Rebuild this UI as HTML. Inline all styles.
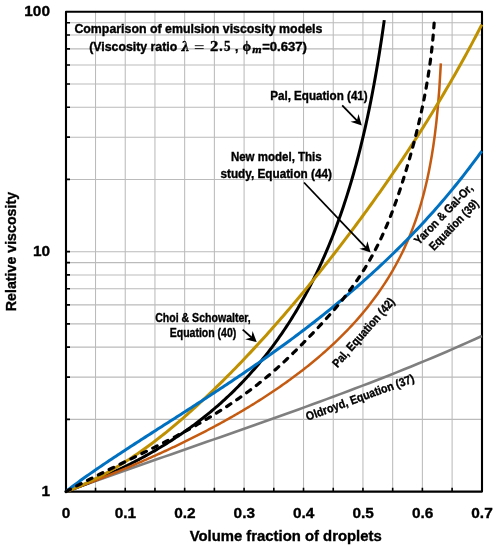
<!DOCTYPE html>
<html><head><meta charset="utf-8"><style>
html,body{margin:0;padding:0;background:#fff;width:496px;height:550px;overflow:hidden}
svg{display:block}
text{font-family:"Liberation Sans",Arial,sans-serif;font-weight:bold;fill:#000;stroke:#000;stroke-width:0.35px}
.s{font-family:"Liberation Serif","DejaVu Serif",serif}
</style></head><body>
<svg width="496" height="550" viewBox="0 0 496 550">
<rect width="496" height="550" fill="#fff"/>
<path d="M95.52,11.7V491.6M125.23,11.7V491.6M154.94,11.7V491.6M184.66,11.7V491.6M214.38,11.7V491.6M244.09,11.7V491.6M273.81,11.7V491.6M303.52,11.7V491.6M333.24,11.7V491.6M362.95,11.7V491.6M392.67,11.7V491.6M422.38,11.7V491.6M452.10,11.7V491.6M66,419.37H482M66,377.11H482M66,347.14H482M66,323.88H482M66,304.88H482M66,288.82H482M66,274.90H482M66,262.63H482M66,179.42H482M66,137.16H482M66,107.19H482M66,83.93H482M66,64.93H482M66,48.87H482M66,34.95H482M66,22.68H482M66,251.65H482" stroke="#BBBBBB" stroke-width="1.05" fill="none"/>
<path d="M95.52,491.6V487.8M125.23,491.6V487.8M154.94,491.6V487.8M184.66,491.6V487.8M214.38,491.6V487.8M244.09,491.6V487.8M273.81,491.6V487.8M303.52,491.6V487.8M333.24,491.6V487.8M362.95,491.6V487.8M392.67,491.6V487.8M422.38,491.6V487.8M452.10,491.6V487.8M66,419.37H70M66,377.11H70M66,347.14H70M66,323.88H70M66,304.88H70M66,288.82H70M66,274.90H70M66,262.63H70M66,179.42H70M66,137.16H70M66,107.19H70M66,83.93H70M66,64.93H70M66,48.87H70M66,34.95H70M66,22.68H70M66,251.65H70" stroke="#000" stroke-width="1.6" fill="none"/>
<rect x="66" y="11.7" width="416" height="479.9" fill="none" stroke="#000" stroke-width="2.1" stroke-linejoin="round"/>
<g fill="none" stroke-linejoin="round">
<path d="M65.80,491.60 L72.85,489.05 L79.90,486.50 L86.95,483.97 L94.00,481.45 L101.06,478.93 L108.11,476.43 L115.16,473.93 L122.21,471.44 L129.26,468.96 L136.31,466.48 L143.36,464.01 L150.41,461.54 L157.46,459.08 L164.51,456.61 L171.57,454.15 L178.62,451.69 L185.67,449.23 L192.72,446.78 L199.77,444.32 L206.82,441.85 L213.87,439.39 L220.92,436.93 L227.97,434.46 L235.02,431.98 L242.08,429.51 L249.13,427.02 L256.18,424.53 L263.23,422.03 L270.28,419.53 L277.33,417.01 L284.38,414.49 L291.43,411.96 L298.48,409.41 L305.53,406.86 L312.59,404.29 L319.64,401.71 L326.69,399.11 L333.74,396.50 L340.79,393.87 L347.84,391.22 L354.89,388.56 L361.94,385.88 L368.99,383.17 L376.04,380.45 L383.10,377.70 L390.15,374.92 L397.20,372.13 L404.25,369.30 L411.30,366.45 L418.35,363.56 L425.40,360.65 L432.45,357.70 L439.50,354.72 L446.55,351.70 L453.61,348.64 L460.66,345.54 L467.71,342.39 L474.76,339.21 L481.81,335.97" stroke="#7F7F7F" stroke-width="2.6"/>
<path d="M65.80,491.60 L67.08,491.13 L68.36,490.67 L69.64,490.19 L70.92,489.72 L72.19,489.24 L73.47,488.76 L74.75,488.28 L76.03,487.79 L77.31,487.30 L78.59,486.81 L79.87,486.31 L81.15,485.81 L82.43,485.31 L83.71,484.81 L84.98,484.30 L86.26,483.79 L87.54,483.27 L88.82,482.75 L90.10,482.23 L91.38,481.71 L92.66,481.18 L93.94,480.65 L95.22,480.11 L96.50,479.57 L97.77,479.03 L99.05,478.48 L100.33,477.93 L101.61,477.38 L102.89,476.82 L104.17,476.26 L105.45,475.70 L106.73,475.13 L108.01,474.56 L109.29,473.98 L110.56,473.41 L111.84,472.82 L113.12,472.23 L114.40,471.64 L115.68,471.05 L116.96,470.45 L118.24,469.84 L119.52,469.24 L120.80,468.62 L122.08,468.01 L123.35,467.39 L124.63,466.76 L125.91,466.13 L127.19,465.50 L128.47,464.86 L129.75,464.22 L131.03,463.57 L132.31,462.92 L133.59,462.26 L134.87,461.60 L136.14,460.93 L137.42,460.26 L138.70,459.59 L139.98,458.91 L141.26,458.22 L142.54,457.53 L143.82,456.83 L145.10,456.13 L146.38,455.43 L147.65,454.72 L148.93,454.00 L150.21,453.28 L151.49,452.55 L152.77,451.82 L154.05,451.08 L155.33,450.34 L156.61,449.59 L157.89,448.83 L159.17,448.07 L160.44,447.30 L161.72,446.53 L163.00,445.75 L164.28,444.97 L165.56,444.18 L166.84,443.38 L168.12,442.58 L169.40,441.77 L170.68,440.95 L171.96,440.13 L173.23,439.30 L174.51,438.46 L175.79,437.62 L177.07,436.77 L178.35,435.92 L179.63,435.06 L180.91,434.19 L182.19,433.31 L183.47,432.43 L184.75,431.53 L186.02,430.64 L187.30,429.73 L188.58,428.82 L189.86,427.90 L191.14,426.97 L192.42,426.03 L193.70,425.09 L194.98,424.14 L196.26,423.18 L197.54,422.21 L198.81,421.23 L200.09,420.25 L201.37,419.25 L202.65,418.25 L203.93,417.24 L205.21,416.22 L206.49,415.19 L207.77,414.15 L209.05,413.11 L210.33,412.05 L211.60,410.99 L212.88,409.91 L214.16,408.83 L215.44,407.73 L216.72,406.63 L218.00,405.52 L219.28,404.39 L220.56,403.26 L221.84,402.11 L223.11,400.96 L224.39,399.79 L225.67,398.62 L226.95,397.43 L228.23,396.23 L229.51,395.02 L230.79,393.80 L232.07,392.57 L233.35,391.32 L234.63,390.06 L235.90,388.80 L237.18,387.51 L238.46,386.22 L239.74,384.92 L241.02,383.60 L242.30,382.26 L243.58,380.92 L244.86,379.56 L246.14,378.19 L247.42,376.80 L248.69,375.40 L249.97,373.99 L251.25,372.56 L252.53,371.12 L253.81,369.66 L255.09,368.19 L256.37,366.70 L257.65,365.20 L258.93,363.68 L260.21,362.14 L261.48,360.59 L262.76,359.02 L264.04,357.44 L265.32,355.84 L266.60,354.22 L267.88,352.58 L269.16,350.92 L270.44,349.25 L271.72,347.56 L273.00,345.85 L274.27,344.11 L275.55,342.36 L276.83,340.59 L278.11,338.80 L279.39,336.99 L280.67,335.16 L281.95,333.31 L283.23,331.43 L284.51,329.53 L285.79,327.61 L287.06,325.67 L288.34,323.70 L289.62,321.71 L290.90,319.69 L292.18,317.65 L293.46,315.58 L294.74,313.49 L296.02,311.37 L297.30,309.22 L298.57,307.05 L299.85,304.84 L301.13,302.61 L302.41,300.35 L303.69,298.06 L304.97,295.73 L306.25,293.38 L307.53,290.99 L308.81,288.57 L310.09,286.11 L311.36,283.62 L312.64,281.10 L313.92,278.54 L315.20,275.93 L316.48,273.30 L317.76,270.62 L319.04,267.90 L320.32,265.14 L321.60,262.33 L322.88,259.48 L324.15,256.59 L325.43,253.65 L326.71,250.66 L327.99,247.62 L329.27,244.53 L330.55,241.39 L331.83,238.20 L333.11,234.95 L334.39,231.64 L335.67,228.27 L336.94,224.84 L338.22,221.34 L339.50,217.78 L340.78,214.16 L342.06,210.46 L343.34,206.69 L344.62,202.84 L345.90,198.91 L347.18,194.91 L348.46,190.81 L349.73,186.63 L351.01,182.36 L352.29,178.00 L353.57,173.53 L354.85,168.96 L356.13,164.29 L357.41,159.50 L358.69,154.59 L359.97,149.56 L361.24,144.40 L362.52,139.11 L363.80,133.68 L365.08,128.10 L366.36,122.36 L367.64,116.46 L368.92,110.39 L370.20,104.14 L371.48,97.70 L372.76,91.06 L374.03,84.21 L375.31,77.13 L376.59,69.82 L377.87,62.26 L379.15,54.43 L380.43,46.32 L381.71,37.90 L382.99,29.17 L384.27,20.10" stroke="#000" stroke-width="3"/>
<path d="M65.80,491.60 L67.31,491.05 L68.81,490.50 L70.32,489.95 L71.82,489.40 L73.33,488.84 L74.84,488.29 L76.34,487.73 L77.85,487.17 L79.36,486.60 L80.86,486.04 L82.37,485.47 L83.87,484.91 L85.38,484.34 L86.89,483.76 L88.39,483.19 L89.90,482.61 L91.41,482.04 L92.91,481.46 L94.42,480.88 L95.92,480.29 L97.43,479.71 L98.94,479.12 L100.44,478.53 L101.95,477.94 L103.46,477.34 L104.96,476.75 L106.47,476.15 L107.97,475.55 L109.48,474.95 L110.99,474.34 L112.49,473.74 L114.00,473.13 L115.50,472.52 L117.01,471.90 L118.52,471.29 L120.02,470.67 L121.53,470.05 L123.04,469.43 L124.54,468.80 L126.05,468.18 L127.55,467.55 L129.06,466.92 L130.57,466.28 L132.07,465.64 L133.58,465.01 L135.09,464.36 L136.59,463.72 L138.10,463.08 L139.60,462.43 L141.11,461.78 L142.62,461.12 L144.12,460.47 L145.63,459.81 L147.14,459.15 L148.64,458.48 L150.15,457.81 L151.65,457.15 L153.16,456.47 L154.67,455.80 L156.17,455.12 L157.68,454.44 L159.18,453.76 L160.69,453.07 L162.20,452.38 L163.70,451.69 L165.21,451.00 L166.72,450.30 L168.22,449.60 L169.73,448.90 L171.23,448.19 L172.74,447.48 L174.25,446.77 L175.75,446.05 L177.26,445.33 L178.77,444.61 L180.27,443.89 L181.78,443.16 L183.28,442.43 L184.79,441.69 L186.30,440.96 L187.80,440.21 L189.31,439.47 L190.81,438.72 L192.32,437.97 L193.83,437.22 L195.33,436.46 L196.84,435.69 L198.35,434.93 L199.85,434.16 L201.36,433.39 L202.86,432.61 L204.37,431.83 L205.88,431.05 L207.38,430.26 L208.89,429.47 L210.40,428.67 L211.90,427.87 L213.41,427.07 L214.91,426.26 L216.42,425.45 L217.93,424.63 L219.43,423.81 L220.94,422.99 L222.45,422.16 L223.95,421.33 L225.46,420.49 L226.96,419.65 L228.47,418.81 L229.98,417.96 L231.48,417.10 L232.99,416.24 L234.49,415.38 L236.00,414.51 L237.51,413.63 L239.01,412.75 L240.52,411.87 L242.03,410.98 L243.53,410.09 L245.04,409.19 L246.54,408.29 L248.05,407.38 L249.56,406.46 L251.06,405.54 L252.57,404.62 L254.08,403.69 L255.58,402.75 L257.09,401.81 L258.59,400.86 L260.10,399.90 L261.61,398.95 L263.11,397.98 L264.62,397.01 L266.13,396.03 L267.63,395.04 L269.14,394.05 L270.64,393.06 L272.15,392.05 L273.66,391.04 L275.16,390.02 L276.67,389.00 L278.17,387.97 L279.68,386.93 L281.19,385.88 L282.69,384.83 L284.20,383.77 L285.71,382.70 L287.21,381.62 L288.72,380.54 L290.22,379.45 L291.73,378.35 L293.24,377.24 L294.74,376.12 L296.25,374.99 L297.76,373.86 L299.26,372.72 L300.77,371.56 L302.27,370.40 L303.78,369.23 L305.29,368.05 L306.79,366.86 L308.30,365.66 L309.81,364.45 L311.31,363.22 L312.82,361.99 L314.32,360.75 L315.83,359.50 L317.34,358.23 L318.84,356.95 L320.35,355.66 L321.85,354.36 L323.36,353.05 L324.87,351.72 L326.37,350.38 L327.88,349.03 L329.39,347.67 L330.89,346.29 L332.40,344.89 L333.90,343.48 L335.41,342.06 L336.92,340.62 L338.42,339.17 L339.93,337.70 L341.44,336.21 L342.94,334.70 L344.45,333.18 L345.95,331.64 L347.46,330.08 L348.97,328.50 L350.47,326.91 L351.98,325.29 L353.49,323.65 L354.99,321.99 L356.50,320.31 L358.00,318.60 L359.51,316.87 L361.02,315.12 L362.52,313.34 L364.03,311.54 L365.53,309.70 L367.04,307.84 L368.55,305.95 L370.05,304.03 L371.56,302.08 L373.07,300.10 L374.57,298.08 L376.08,296.02 L377.58,293.93 L379.09,291.81 L380.60,289.64 L382.10,287.42 L383.61,285.17 L385.12,282.87 L386.62,280.52 L388.13,278.11 L389.63,275.66 L391.14,273.15 L392.65,270.58 L394.15,267.94 L395.66,265.24 L397.16,262.47 L398.67,259.63 L400.18,256.70 L401.68,253.69 L403.19,250.58 L404.70,247.38 L406.20,244.08 L407.71,240.66 L409.21,237.12 L410.72,233.44 L412.23,229.62 L413.73,225.65 L415.24,221.50 L416.75,217.15 L418.25,212.60 L419.76,207.80 L421.26,202.74 L422.77,197.38 L424.28,191.67 L425.78,185.57 L427.29,179.00 L428.80,171.88 L430.30,164.11 L431.81,155.54 L433.31,145.95 L434.82,135.08 L436.33,122.46 L437.83,107.39 L439.34,88.59 L440.84,63.40" stroke="#C55A11" stroke-width="2.5"/>
<path d="M65.80,491.60 L67.89,490.83 L69.98,490.04 L72.07,489.23 L74.16,488.39 L76.25,487.54 L78.34,486.67 L80.43,485.78 L82.52,484.86 L84.61,483.93 L86.71,482.98 L88.80,482.01 L90.89,481.01 L92.98,480.00 L95.07,478.97 L97.16,477.91 L99.25,476.84 L101.34,475.75 L103.43,474.64 L105.52,473.50 L107.61,472.35 L109.70,471.18 L111.79,469.99 L113.88,468.78 L115.97,467.55 L118.06,466.30 L120.15,465.03 L122.24,463.74 L124.33,462.43 L126.42,461.10 L128.52,459.76 L130.61,458.39 L132.70,457.00 L134.79,455.60 L136.88,454.18 L138.97,452.73 L141.06,451.27 L143.15,449.79 L145.24,448.29 L147.33,446.78 L149.42,445.24 L151.51,443.69 L153.60,442.12 L155.69,440.53 L157.78,438.92 L159.87,437.30 L161.96,435.65 L164.05,433.99 L166.14,432.31 L168.23,430.62 L170.33,428.91 L172.42,427.18 L174.51,425.43 L176.60,423.67 L178.69,421.89 L180.78,420.09 L182.87,418.28 L184.96,416.45 L187.05,414.60 L189.14,412.74 L191.23,410.87 L193.32,408.97 L195.41,407.07 L197.50,405.14 L199.59,403.20 L201.68,401.25 L203.77,399.28 L205.86,397.29 L207.95,395.30 L210.04,393.28 L212.14,391.25 L214.23,389.21 L216.32,387.19 L218.41,385.16 L220.50,383.12 L222.59,381.06 L224.68,378.99 L226.77,376.90 L228.86,374.81 L230.95,372.70 L233.04,370.57 L235.13,368.43 L237.22,366.28 L239.31,364.12 L241.40,361.94 L243.49,359.75 L245.58,357.55 L247.67,355.34 L249.76,353.11 L251.85,350.88 L253.95,348.63 L256.04,346.36 L258.13,344.09 L260.22,341.81 L262.31,339.51 L264.40,337.20 L266.49,334.88 L268.58,332.55 L270.67,330.20 L272.76,327.85 L274.85,325.48 L276.94,323.10 L279.03,320.71 L281.12,318.31 L283.21,315.90 L285.30,313.48 L287.39,311.05 L289.48,308.60 L291.57,306.15 L293.66,303.68 L295.76,301.20 L297.85,298.72 L299.94,296.22 L302.03,293.71 L304.12,291.19 L306.21,288.65 L308.30,286.11 L310.39,283.56 L312.48,280.99 L314.57,278.41 L316.66,275.83 L318.75,273.23 L320.84,270.62 L322.93,268.00 L325.02,265.37 L327.11,262.73 L329.20,260.07 L331.29,257.41 L333.38,254.73 L335.47,252.04 L337.57,249.34 L339.66,246.63 L341.75,243.91 L343.84,241.17 L345.93,238.43 L348.02,235.67 L350.11,232.90 L352.20,230.12 L354.29,227.32 L356.38,224.51 L358.47,221.69 L360.56,218.86 L362.65,216.01 L364.74,213.16 L366.83,210.29 L368.92,207.40 L371.01,204.50 L373.10,201.59 L375.19,198.67 L377.28,195.73 L379.38,192.77 L381.47,189.81 L383.56,186.82 L385.65,183.83 L387.74,180.82 L389.83,177.79 L391.92,174.75 L394.01,171.69 L396.10,168.62 L398.19,165.53 L400.28,162.42 L402.37,159.30 L404.46,156.16 L406.55,153.01 L408.64,149.83 L410.73,146.64 L412.82,143.43 L414.91,140.21 L417.00,136.96 L419.09,133.69 L421.19,130.41 L423.28,127.10 L425.37,123.78 L427.46,120.43 L429.55,117.07 L431.64,113.68 L433.73,110.27 L435.82,106.84 L437.91,103.39 L440.00,99.91 L442.09,96.41 L444.18,92.88 L446.27,89.33 L448.36,85.76 L450.45,82.16 L452.54,78.53 L454.63,74.88 L456.72,71.19 L458.81,67.48 L460.90,63.75 L463.00,59.98 L465.09,56.18 L467.18,52.35 L469.27,48.49 L471.36,44.60 L473.45,40.67 L475.54,36.71 L477.63,32.71 L479.72,28.68 L481.81,24.62" stroke="#BF9000" stroke-width="3"/>
<path d="M65.80,491.60 L67.89,489.96 L69.98,488.34 L72.07,486.75 L74.16,485.18 L76.25,483.63 L78.34,482.09 L80.43,480.57 L82.52,479.06 L84.61,477.57 L86.71,476.08 L88.80,474.61 L90.89,473.14 L92.98,471.68 L95.07,470.24 L97.16,468.80 L99.25,467.37 L101.34,465.94 L103.43,464.53 L105.52,463.12 L107.61,461.71 L109.70,460.31 L111.79,458.92 L113.88,457.53 L115.97,456.15 L118.06,454.77 L120.15,453.39 L122.24,452.02 L124.33,450.65 L126.42,449.29 L128.52,447.93 L130.61,446.57 L132.70,445.22 L134.79,443.87 L136.88,442.52 L138.97,441.17 L141.06,439.82 L143.15,438.48 L145.24,437.13 L147.33,435.79 L149.42,434.45 L151.51,433.12 L153.60,431.78 L155.69,430.44 L157.78,429.10 L159.87,427.77 L161.96,426.43 L164.05,425.10 L166.14,423.76 L168.23,422.42 L170.33,421.09 L172.42,419.75 L174.51,418.41 L176.60,417.08 L178.69,415.74 L180.78,414.40 L182.87,413.06 L184.96,411.72 L187.05,410.37 L189.14,409.03 L191.23,407.68 L193.32,406.33 L195.41,404.99 L197.50,403.63 L199.59,402.28 L201.68,400.93 L203.77,399.57 L205.86,398.21 L207.95,396.85 L210.04,395.48 L212.14,394.11 L214.23,392.74 L216.32,391.37 L218.41,389.99 L220.50,388.61 L222.59,387.23 L224.68,385.85 L226.77,384.46 L228.86,383.06 L230.95,381.67 L233.04,380.27 L235.13,378.86 L237.22,377.46 L239.31,376.04 L241.40,374.63 L243.49,373.21 L245.58,371.78 L247.67,370.36 L249.76,368.92 L251.85,367.48 L253.95,366.04 L256.04,364.59 L258.13,363.14 L260.22,361.69 L262.31,360.22 L264.40,358.76 L266.49,357.28 L268.58,355.80 L270.67,354.32 L272.76,352.83 L274.85,351.33 L276.94,349.83 L279.03,348.33 L281.12,346.81 L283.21,345.29 L285.30,343.77 L287.39,342.24 L289.48,340.70 L291.57,339.15 L293.66,337.60 L295.76,336.04 L297.85,334.48 L299.94,332.90 L302.03,331.32 L304.12,329.74 L306.21,328.14 L308.30,326.54 L310.39,324.93 L312.48,323.31 L314.57,321.69 L316.66,320.05 L318.75,318.41 L320.84,316.76 L322.93,315.10 L325.02,313.44 L327.11,311.76 L329.20,310.08 L331.29,308.39 L333.38,306.68 L335.47,304.97 L337.57,303.25 L339.66,301.52 L341.75,299.78 L343.84,298.03 L345.93,296.27 L348.02,294.50 L350.11,292.73 L352.20,290.94 L354.29,289.14 L356.38,287.32 L358.47,285.50 L360.56,283.67 L362.65,281.83 L364.74,279.97 L366.83,278.11 L368.92,276.23 L371.01,274.34 L373.10,272.44 L375.19,270.52 L377.28,268.60 L379.38,266.66 L381.47,264.70 L383.56,262.74 L385.65,260.76 L387.74,258.77 L389.83,256.77 L391.92,254.75 L394.01,252.72 L396.10,250.67 L398.19,248.61 L400.28,246.53 L402.37,244.44 L404.46,242.34 L406.55,240.22 L408.64,238.08 L410.73,235.93 L412.82,233.76 L414.91,231.58 L417.00,229.37 L419.09,227.16 L421.19,224.92 L423.28,222.67 L425.37,220.40 L427.46,218.11 L429.55,215.80 L431.64,213.47 L433.73,211.13 L435.82,208.76 L437.91,206.38 L440.00,203.97 L442.09,201.55 L444.18,199.10 L446.27,196.64 L448.36,194.15 L450.45,191.64 L452.54,189.10 L454.63,186.55 L456.72,183.97 L458.81,181.36 L460.90,178.74 L463.00,176.08 L465.09,173.41 L467.18,170.70 L469.27,167.97 L471.36,165.21 L473.45,162.43 L475.54,159.62 L477.63,156.78 L479.72,153.91 L481.81,151.01" stroke="#0070C0" stroke-width="3"/>
<path d="M66.00,491.60 L68.92,490.03 L71.87,488.45 L74.86,486.88 L77.87,485.31 L80.90,483.74 L83.96,482.16 L87.05,480.59 L90.15,479.02 L93.27,477.45 L96.41,475.87 L99.57,474.30 L102.74,472.73 L105.92,471.16 L109.11,469.58 L112.31,468.01 L115.51,466.44 L118.72,464.87 L121.94,463.29 L125.15,461.72 L128.37,460.15 L131.58,458.58 L134.79,457.00 L137.99,455.43 L141.19,453.86 L144.38,452.29 L147.55,450.71 L150.72,449.14 L153.87,447.57 L157.00,446.00 L160.12,444.42 L163.21,442.85 L166.29,441.28 L169.34,439.71 L172.37,438.13 L175.37,436.56 L178.34,434.99 L181.29,433.41 L184.20,431.84 L187.08,430.27 L189.92,428.70 L192.74,427.12 L195.52,425.55 L198.27,423.98 L200.99,422.41 L203.68,420.83 L206.33,419.26 L208.96,417.69 L211.55,416.12 L214.11,414.54 L216.65,412.97 L219.15,411.40 L221.62,409.83 L224.07,408.25 L226.48,406.68 L228.86,405.11 L231.22,403.54 L233.55,401.96 L235.85,400.39 L238.12,398.82 L240.36,397.25 L242.57,395.67 L244.76,394.10 L246.92,392.53 L249.05,390.96 L251.16,389.38 L253.23,387.81 L255.29,386.24 L257.31,384.66 L259.31,383.09 L261.29,381.52 L263.24,379.95 L265.16,378.37 L267.06,376.80 L268.93,375.23 L270.78,373.66 L272.61,372.08 L274.41,370.51 L276.19,368.94 L277.96,367.37 L279.70,365.79 L281.42,364.22 L283.13,362.65 L284.82,361.08 L286.49,359.50 L288.15,357.93 L289.79,356.36 L291.42,354.79 L293.03,353.21 L294.63,351.64 L296.23,350.07 L297.81,348.50 L299.38,346.92 L300.94,345.35 L302.49,343.78 L304.04,342.21 L305.58,340.63 L307.11,339.06 L308.64,337.49 L310.15,335.92 L311.67,334.34 L313.17,332.77 L314.67,331.20 L316.16,329.62 L317.64,328.05 L319.11,326.48 L320.57,324.91 L322.02,323.33 L323.46,321.76 L324.90,320.19 L326.32,318.62 L327.73,317.04 L329.13,315.47 L330.52,313.90 L331.90,312.33 L333.27,310.75 L334.62,309.18 L335.96,307.61 L337.29,306.04 L338.61,304.46 L339.91,302.89 L341.20,301.32 L342.48,299.75 L343.74,298.17 L344.99,296.60 L346.22,295.03 L347.44,293.46 L348.65,291.88 L349.83,290.31 L351.00,288.74 L352.16,287.17 L353.30,285.59 L354.42,284.02 L355.53,282.45 L356.62,280.87 L357.70,279.30 L358.76,277.73 L359.81,276.16 L360.84,274.58 L361.86,273.01 L362.86,271.44 L363.85,269.87 L364.83,268.29 L365.79,266.72 L366.74,265.15 L367.68,263.58 L368.60,262.00 L369.51,260.43 L370.40,258.86 L371.29,257.29 L372.16,255.71 L373.02,254.14 L373.87,252.57 L374.70,251.00 L375.52,249.42 L376.34,247.85 L377.14,246.28 L377.93,244.71 L378.71,243.13 L379.47,241.56 L380.23,239.99 L380.98,238.42 L381.72,236.84 L382.44,235.27 L383.16,233.70 L383.87,232.13 L384.57,230.55 L385.26,228.98 L385.94,227.41 L386.61,225.83 L387.27,224.26 L387.92,222.69 L388.57,221.12 L389.21,219.54 L389.84,217.97 L390.46,216.40 L391.07,214.83 L391.68,213.25 L392.28,211.68 L392.87,210.11 L393.46,208.54 L394.04,206.96 L394.61,205.39 L395.18,203.82 L395.74,202.25 L396.29,200.67 L396.84,199.10 L397.38,197.53 L397.92,195.96 L398.45,194.38 L398.98,192.81 L399.51,191.24 L400.03,189.67 L400.54,188.09 L401.05,186.52 L401.56,184.95 L402.06,183.38 L402.56,181.80 L403.05,180.23 L403.55,178.66 L404.03,177.08 L404.52,175.51 L405.00,173.94 L405.48,172.37 L405.96,170.79 L406.43,169.22 L406.90,167.65 L407.37,166.08 L407.83,164.50 L408.29,162.93 L408.75,161.36 L409.20,159.79 L409.65,158.21 L410.10,156.64 L410.54,155.07 L410.98,153.50 L411.42,151.92 L411.85,150.35 L412.28,148.78 L412.71,147.21 L413.13,145.63 L413.55,144.06 L413.97,142.49 L414.38,140.92 L414.79,139.34 L415.19,137.77 L415.59,136.20 L415.99,134.63 L416.39,133.05 L416.78,131.48 L417.17,129.91 L417.55,128.34 L417.93,126.76 L418.31,125.19 L418.68,123.62 L419.05,122.04 L419.41,120.47 L419.77,118.90 L420.13,117.33 L420.49,115.75 L420.84,114.18 L421.18,112.61 L421.53,111.04 L421.86,109.46 L422.20,107.89 L422.53,106.32 L422.86,104.75 L423.18,103.17 L423.50,101.60 L423.82,100.03 L424.13,98.46 L424.44,96.88 L424.74,95.31 L425.04,93.74 L425.33,92.17 L425.63,90.59 L425.91,89.02 L426.20,87.45 L426.48,85.88 L426.75,84.30 L427.02,82.73 L427.29,81.16 L427.55,79.59 L427.81,78.01 L428.07,76.44 L428.32,74.87 L428.56,73.29 L428.81,71.72 L429.04,70.15 L429.28,68.58 L429.51,67.00 L429.73,65.43 L429.95,63.86 L430.17,62.29 L430.38,60.71 L430.59,59.14 L430.79,57.57 L430.99,56.00 L431.19,54.42 L431.38,52.85 L431.57,51.28 L431.75,49.71 L431.92,48.13 L432.10,46.56 L432.26,44.99 L432.43,43.42 L432.59,41.84 L432.74,40.27 L432.89,38.70 L433.04,37.13 L433.18,35.55 L433.32,33.98 L433.45,32.41 L433.57,30.84 L433.70,29.26 L433.81,27.69 L433.93,26.12 L434.04,24.55 L434.14,22.97" stroke="#000" stroke-width="3.2" stroke-dasharray="5 7.127" stroke-linecap="round"/>
</g>
<!-- tick labels -->
<g font-size="15.4" text-anchor="end">
<text x="50" y="16.0">100</text>
<text x="50" y="255.9">10</text>
<text x="50" y="496.1">1</text>
</g>
<g font-size="15.4" text-anchor="middle">
<text x="66" y="518.3">0</text>
<text x="125.4" y="518.3">0.1</text>
<text x="184.9" y="518.3">0.2</text>
<text x="244.3" y="518.3">0.3</text>
<text x="303.7" y="518.3">0.4</text>
<text x="363.2" y="518.3">0.5</text>
<text x="422.6" y="518.3">0.6</text>
<text x="482" y="518.3">0.7</text>
</g>
<text x="189.7" y="541.2" font-size="14.5" textLength="192" lengthAdjust="spacingAndGlyphs">Volume fraction of droplets</text>
<text transform="translate(16.0,311.2) rotate(-90)" font-size="14.3" textLength="119.3" lengthAdjust="spacingAndGlyphs">Relative viscosity</text>
<!-- title -->
<text x="74.4" y="32.9" font-size="11.9" textLength="248" lengthAdjust="spacingAndGlyphs">Comparison of emulsion viscosity models</text>
<text x="89.2" y="51.3" font-size="11.9" textLength="88" lengthAdjust="spacingAndGlyphs">(Viscosity ratio</text>
<text x="181.4" y="50.9" font-size="13.5" font-style="italic" font-weight="normal" stroke-width="0.3" textLength="8.2" lengthAdjust="spacingAndGlyphs" style="font-family:'DejaVu Serif',serif">λ</text>
<path d="M194.8,45.7H203.7M194.8,48.6H203.7" stroke="#000" stroke-width="0.9"/>
<text class="s" x="209.9" y="50.9" font-size="13.6" stroke-width="0.1" textLength="8.3" lengthAdjust="spacingAndGlyphs">2</text>
<text class="s" x="219.3" y="50.9" font-size="13.6" stroke-width="0.1">.</text>
<text class="s" x="223.9" y="50.9" font-size="13.6" stroke-width="0.1" textLength="6.5" lengthAdjust="spacingAndGlyphs">5</text>
<text x="234.9" y="51.3" font-size="11.9">,</text>
<text class="s" x="242.4" y="51.3" font-size="14" font-weight="normal" stroke-width="0.15" textLength="8.6" lengthAdjust="spacingAndGlyphs">ϕ</text>
<text class="s" x="252.2" y="53.3" font-size="10.5" font-style="italic" textLength="9.4" lengthAdjust="spacingAndGlyphs">m</text>
<text x="262.2" y="51.3" font-size="11.9" textLength="44.8" lengthAdjust="spacingAndGlyphs">=0.637)</text>
<!-- labels -->
<g font-size="11.9">
<text x="270.2" y="99.9" textLength="97.5" lengthAdjust="spacingAndGlyphs">Pal, Equation (41)</text>
<text x="230.9" y="160.6" textLength="90.8" lengthAdjust="spacingAndGlyphs">New model, This</text>
<text x="220.5" y="177.5" textLength="111.4" lengthAdjust="spacingAndGlyphs">study, Equation (44)</text>
<text x="155.2" y="322.3" textLength="95.6" lengthAdjust="spacingAndGlyphs">Choi &amp; Schowalter,</text>
<text x="169.7" y="336.8" textLength="66.6" lengthAdjust="spacingAndGlyphs">Equation (40)</text>
<text transform="translate(337.4,368.3) rotate(-48.8)" textLength="88" lengthAdjust="spacingAndGlyphs">Pal, Equation (42)</text>
<text transform="translate(418.9,245.2) rotate(-46)" textLength="78.5" lengthAdjust="spacingAndGlyphs">Yaron &amp; Gal-Or,</text>
<text transform="translate(433.9,251.3) rotate(-46)" textLength="65.5" lengthAdjust="spacingAndGlyphs">Equation (39)</text>
<text transform="translate(307.6,420.8) rotate(-20)" textLength="114.5" lengthAdjust="spacingAndGlyphs">Oldroyd, Equation (37)</text>
</g>
<!-- arrows -->
<path d="M342.2,105.3L357.27,120.84" stroke="#000" stroke-width="1.8" fill="none"/><path d="M0,0L-10.5,-5.6L-7,0L-10.5,5.6Z" fill="#000" transform="translate(361.8,125.5) rotate(45.9)"/>
<path d="M304,182.5L366.12,247.89" stroke="#000" stroke-width="1.8" fill="none"/><path d="M0,0L-10.5,-5.6L-7,0L-10.5,5.6Z" fill="#000" transform="translate(370.6,252.6) rotate(46.5)"/>
<path d="M242.7,329.6L251.85,337.77" stroke="#000" stroke-width="1.8" fill="none"/><path d="M0,0L-10.5,-5.6L-7,0L-10.5,5.6Z" fill="#000" transform="translate(256.7,342.1) rotate(41.8)"/>

</svg>
</body></html>
